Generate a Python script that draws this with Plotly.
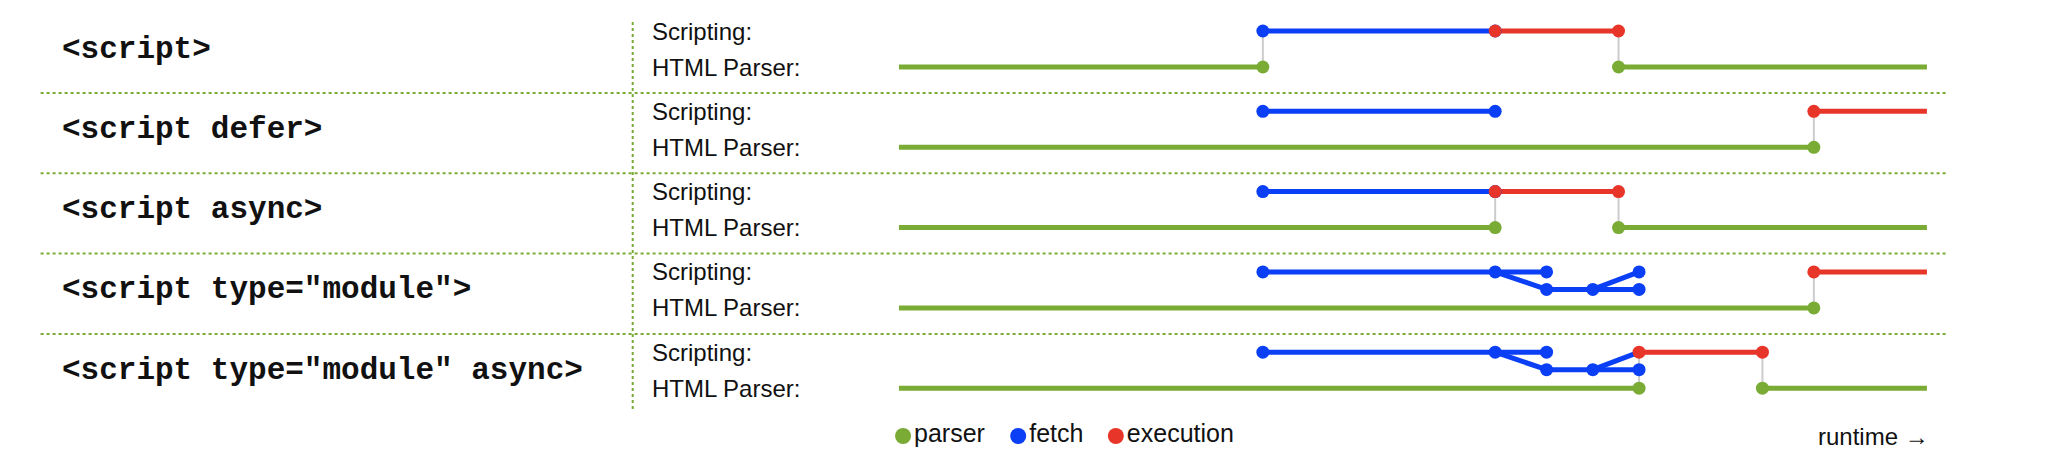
import plotly.graph_objects as go

GREEN = '#7aab35'
BLUE = '#0a3ff5'
RED = '#e8352a'
GREY = '#cccccc'

row_labels = ['<script>', '<script defer>', '<script async>',
              '<script type="module">', '<script type="module" async>']

# segments per row: (lane, start, end); lane 0 = scripting, 1 = second fetch lane, 2 = parser
parser_segs = [[(0, 35.4), (70, 100)], [(0, 89)], [(0, 58), (70, 100)], [(0, 89)], [(0, 72), (84, 100)]]
fetch_segs = [
    [((0, 35.4), (0, 58))],
    [((0, 35.4), (0, 58))],
    [((0, 35.4), (0, 58))],
    [((0, 35.4), (0, 58)), ((0, 58), (0, 63)), ((0, 58), (1, 63)), ((1, 63), (1, 72)), ((1, 67.5), (0, 72))],
    [((0, 35.4), (0, 58)), ((0, 58), (0, 63)), ((0, 58), (1, 63)), ((1, 63), (1, 72)), ((1, 67.5), (0, 72))],
]
exec_segs = [[(58, 70)], [(89, 100)], [(58, 70)], [(89, 100)], [(72, 84)]]
fetch_dots = [[(0, 35.4), (0, 58)], [(0, 35.4), (0, 58)], [(0, 35.4), (0, 58)],
              [(0, 35.4), (0, 58), (0, 63), (0, 72), (1, 63), (1, 67.5), (1, 72)],
              [(0, 35.4), (0, 58), (0, 63), (1, 63), (1, 67.5), (1, 72)]]
exec_dots = [[58, 70], [89], [58, 70], [89], [72, 84]]
parser_dots = [[35.4, 70], [89], [58, 70], [89], [72, 84]]
connectors = [[35.4, 70], [89], [58, 70], [89], [72, 84]]

ROW0, ROWH = 23, 80.3
LANE = [0, 17.5, 36]

def ypos(row, lane):
    return ROW0 + ROWH * row + LANE[lane]

fig = go.Figure()

def line(xs, ys, color, width=5):
    fig.add_trace(go.Scatter(x=xs, y=ys, mode='lines', line=dict(color=color, width=width),
                             showlegend=False, hoverinfo='skip'))

def dots(xs, ys, color):
    fig.add_trace(go.Scatter(x=xs, y=ys, mode='markers', marker=dict(color=color, size=13),
                             showlegend=False, hoverinfo='skip'))

for r in range(5):
    for t in connectors[r]:
        line([t, t], [ypos(r, 0), ypos(r, 2)], GREY, 2)
    for a, b in parser_segs[r]:
        line([a, b], [ypos(r, 2)] * 2, GREEN)
    for (la, a), (lb, b) in fetch_segs[r]:
        line([a, b], [ypos(r, la), ypos(r, lb)], BLUE)
    for a, b in exec_segs[r]:
        line([a, b], [ypos(r, 0)] * 2, RED)
    dots([t for _, t in fetch_dots[r]], [ypos(r, l) for l, _ in fetch_dots[r]], BLUE)
    dots(parser_dots[r], [ypos(r, 2)] * len(parser_dots[r]), GREEN)
    dots(exec_dots[r], [ypos(r, 0)] * len(exec_dots[r]), RED)

# legend
LEG_Y = 428
legend_items = [('parser', GREEN, 0.4), ('fetch', BLUE, 11.6), ('execution', RED, 21.1)]
for name, color, t in legend_items:
    fig.add_trace(go.Scatter(x=[t], y=[LEG_Y], mode='markers+text', text=[name],
                             textposition='middle right', marker=dict(color=color, size=16),
                             textfont=dict(size=25, color='#111', family='Liberation Sans'),
                             showlegend=False, hoverinfo='skip'))

ann = []
shapes = []
for r, lab in enumerate(row_labels):
    yc = (ypos(r, 0) + ypos(r, 2)) / 2
    ann.append(dict(x=-81.6, y=yc, xref='x', yref='y', text='<b>' + lab + '</b>', showarrow=False,
                    xanchor='left', font=dict(family='Liberation Mono', size=31, color='#111')))
    for lane, txt in [(0, 'Scripting:'), (2, 'HTML Parser:')]:
        ann.append(dict(x=-24.2, y=ypos(r, lane), xref='x', yref='y', text=txt, showarrow=False,
                        xanchor='left', font=dict(family='Liberation Sans', size=24, color='#111')))
    if r < 4:
        ys = ROW0 + ROWH * r + 62
        shapes.append(dict(type='line', x0=-83.5, x1=102, y0=ys, y1=ys, xref='x', yref='y',
                           line=dict(color=GREEN, width=2, dash='dot')))
shapes.append(dict(type='line', x0=-25.9, x1=-25.9, y0=14, y1=402, xref='x', yref='y',
                   line=dict(color=GREEN, width=2, dash='dot')))
ann.append(dict(x=100.4, y=LEG_Y, xref='x', yref='y', text='runtime →', showarrow=False,
                xanchor='right', font=dict(family='Liberation Sans', size=24, color='#111')))

fig.update_layout(
    width=2058, height=472, margin=dict(l=0, r=0, t=0, b=0),
    plot_bgcolor='white', paper_bgcolor='white',
    xaxis=dict(range=[-86.67, 113.53], visible=False, fixedrange=True),
    yaxis=dict(range=[472, 0], visible=False, fixedrange=True),
    annotations=ann, shapes=shapes,
)

fig.write_html("out.html")
